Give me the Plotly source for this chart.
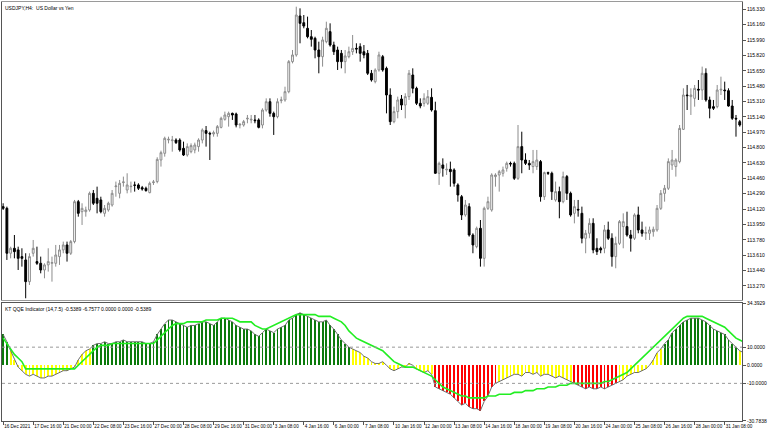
import plotly.graph_objects as go

# ---------------- data ----------------
date_labels = ["16 Dec 2021", "17 Dec 16:00", "21 Dec 00:00", "22 Dec 08:00", "23 Dec 16:00",
               "27 Dec 00:00", "28 Dec 08:00", "29 Dec 16:00", "31 Dec 00:00", "3 Jan 08:00",
               "4 Jan 16:00", "6 Jan 00:00", "7 Jan 08:00", "10 Jan 16:00", "12 Jan 00:00",
               "13 Jan 08:00", "14 Jan 16:00", "18 Jan 00:00", "19 Jan 08:00", "20 Jan 16:00",
               "24 Jan 00:00", "25 Jan 08:00", "26 Jan 16:00", "28 Jan 00:00", "31 Jan 08:00"]
bars_per_label = 8

open_ = [114.147,114.128,113.631,113.686,113.668,113.594,113.557,113.317,113.631,113.539,
         113.520,113.446,113.502,113.520,113.520,113.594,113.668,113.723,113.631,113.760,
         114.202,114.091,114.091,114.110,114.294,114.239,114.221,114.073,114.110,114.165,
         114.368,114.294,114.413,114.331,114.368,114.387,114.387,114.357,114.350,114.302,
         114.413,114.424,114.663,114.737,114.884,114.877,114.884,114.884,114.792,114.718,
         114.755,114.774,114.811,114.884,114.988,114.958,114.951,114.958,115.024,115.113,
         115.142,115.179,115.172,115.050,115.050,115.117,115.106,115.106,115.106,115.050,
         115.216,115.308,115.179,115.142,115.320,115.327,115.419,115.751,115.825,116.256,
         116.182,116.120,116.027,116.009,115.880,115.806,115.972,116.083,115.935,115.880,
         115.843,115.751,115.806,115.861,115.898,115.917,115.861,115.843,115.622,115.530,
         115.659,115.806,115.677,115.382,115.087,115.198,115.338,115.271,115.364,115.603,
         115.456,115.290,115.290,115.290,115.356,115.209,114.516,114.608,114.553,114.560,
         114.553,114.387,114.257,114.055,114.147,113.833,113.704,113.907,113.575,114.128,
         114.110,114.479,114.497,114.516,114.571,114.626,114.626,114.460,114.811,114.663,
         114.626,114.590,114.590,114.645,114.257,114.523,114.516,114.221,114.313,114.202,
         114.479,114.294,114.073,114.117,114.073,113.797,113.852,113.962,113.686,113.686,
         113.686,113.889,113.797,113.594,113.741,113.926,113.926,113.833,113.797,114.055,
         113.889,113.852,113.852,113.870,113.889,114.128,114.294,114.350,114.608,114.590,
         114.645,115.002,115.382,115.364,115.345,115.445,115.437,115.622,115.327,115.253,
         115.253,115.437,115.437,115.430,115.260,115.124,115.087,115.050]

high_ = [114.184,114.147,113.704,113.833,113.704,113.686,113.631,113.631,113.778,113.704,
         113.594,113.520,113.686,113.594,113.723,113.723,113.760,113.760,113.778,114.221,
         114.221,114.184,114.147,114.313,114.331,114.368,114.257,114.165,114.202,114.331,
         114.424,114.442,114.479,114.516,114.424,114.424,114.405,114.376,114.368,114.424,
         114.442,114.693,114.766,114.921,114.921,114.929,114.903,114.903,114.866,114.847,
         114.847,114.855,114.903,115.013,115.039,114.976,114.988,115.050,115.142,115.198,
         115.198,115.187,115.187,115.069,115.106,115.161,115.161,115.161,115.124,115.235,
         115.345,115.345,115.198,115.345,115.364,115.474,115.769,115.880,116.359,116.341,
         116.267,116.249,116.101,116.027,115.972,116.027,116.193,116.175,115.972,115.917,
         115.880,115.880,115.917,116.046,115.954,115.954,115.935,115.880,115.659,115.677,
         115.861,115.825,115.696,115.456,115.253,115.364,115.382,115.401,115.659,115.677,
         115.474,115.345,115.401,115.437,115.456,115.308,114.645,114.681,114.626,114.645,
         114.571,114.405,114.276,114.221,114.184,113.852,113.926,113.999,114.147,114.257,
         114.516,114.516,114.553,114.590,114.645,114.645,114.645,115.050,114.976,114.737,
         114.663,114.774,114.774,114.663,114.534,114.534,114.534,114.424,114.368,114.534,
         114.497,114.313,114.221,114.221,114.147,113.889,114.018,114.018,113.797,113.704,
         113.944,113.981,113.852,113.815,113.999,114.073,114.091,113.889,114.073,114.147,
         113.981,113.926,113.926,113.926,114.165,114.331,114.387,114.681,114.774,114.681,
         115.050,115.456,115.493,115.456,115.493,115.548,115.696,115.677,115.364,115.327,
         115.493,115.585,115.530,115.456,115.327,115.161,115.106,115.087]

low_ = [114.110,113.557,113.575,113.575,113.446,113.483,113.133,113.280,113.594,113.502,
        113.409,113.354,113.428,113.317,113.483,113.502,113.631,113.539,113.612,113.741,
        114.036,113.944,114.036,114.091,114.165,114.073,114.073,114.036,114.091,114.147,
        114.257,114.239,114.368,114.294,114.302,114.313,114.331,114.324,114.313,114.294,
        114.387,114.405,114.590,114.700,114.847,114.755,114.840,114.755,114.707,114.700,
        114.737,114.737,114.755,114.847,114.811,114.663,114.921,114.921,115.013,115.098,
        115.032,115.106,115.024,115.013,115.032,115.069,115.069,115.069,115.013,115.013,
        115.198,115.142,114.940,115.124,115.290,115.308,115.401,115.732,115.806,115.954,
        116.120,116.009,115.917,115.788,115.622,115.696,115.954,115.917,115.825,115.659,
        115.677,115.622,115.788,115.825,115.843,115.751,115.788,115.603,115.530,115.511,
        115.640,115.640,115.179,115.050,115.069,115.124,115.216,115.124,115.327,115.401,
        115.271,115.235,115.253,115.271,115.198,114.510,114.387,114.479,114.497,114.368,
        114.368,114.202,113.999,114.036,113.815,113.631,113.686,113.483,113.483,114.110,
        114.091,114.368,114.313,114.479,114.534,114.590,114.442,114.442,114.516,114.608,
        114.553,114.516,114.553,114.202,114.221,114.497,114.221,114.202,114.018,114.184,
        114.221,114.036,113.962,114.036,113.741,113.631,113.797,113.631,113.612,113.631,
        113.631,113.778,113.483,113.465,113.723,113.686,113.815,113.649,113.778,113.852,
        113.815,113.778,113.778,113.815,113.870,114.110,114.202,114.331,114.553,114.479,
        114.626,114.995,115.216,115.161,115.253,115.327,115.327,115.308,115.124,115.216,
        115.235,115.382,115.327,115.253,115.106,114.921,115.032,114.884]

close_ = [114.128,113.631,113.686,113.649,113.575,113.575,113.317,113.594,113.686,113.520,
          113.446,113.502,113.539,113.528,113.612,113.668,113.723,113.631,113.760,114.202,
          114.073,114.128,114.110,114.294,114.184,114.184,114.091,114.128,114.184,114.294,
          114.375,114.405,114.420,114.387,114.372,114.383,114.350,114.342,114.324,114.405,
          114.420,114.670,114.744,114.903,114.892,114.884,114.855,114.774,114.718,114.811,
          114.822,114.829,114.884,114.995,114.958,114.951,114.965,115.032,115.124,115.161,
          115.179,115.161,115.050,115.058,115.087,115.124,115.113,115.098,115.024,115.216,
          115.308,115.179,115.142,115.308,115.327,115.419,115.751,115.825,116.267,116.175,
          116.145,116.027,115.998,115.880,115.806,115.991,116.120,115.935,115.861,115.751,
          115.751,115.814,115.861,115.898,115.891,115.843,115.825,115.622,115.548,115.659,
          115.825,115.659,115.382,115.087,115.198,115.327,115.271,115.364,115.622,115.456,
          115.290,115.260,115.345,115.364,115.216,114.516,114.626,114.571,114.560,114.534,
          114.405,114.276,114.055,114.165,113.833,113.723,113.907,113.575,114.128,114.202,
          114.497,114.497,114.534,114.553,114.626,114.619,114.460,114.811,114.663,114.626,
          114.608,114.645,114.663,114.257,114.523,114.516,114.313,114.313,114.202,114.479,
          114.294,114.055,114.147,114.110,113.797,113.852,113.962,113.668,113.649,113.668,
          113.889,113.797,113.594,113.741,113.981,113.981,113.833,113.797,114.055,113.889,
          113.852,113.859,113.889,113.896,114.128,114.294,114.350,114.645,114.663,114.663,
          115.013,115.382,115.375,115.382,115.456,115.437,115.622,115.327,115.235,115.235,
          115.437,115.445,115.430,115.260,115.124,115.117,115.050,114.976]

# QQE histogram (smoothed RSI - 50) and QQE trailing line
qqe_hist = [17,13,8,3,
            -1,-3,-5,-6,-5,-6,-7,-7,-6,-6,-5,-4,-3,-3,-2,-1,
            3,6,8,9,
            11,12,12,13,12,12,13,13,14,13,13,13,
            13,13,12,12,13,
            17,20,23,25,25,
            24,23,22,21,22,22,23,24,24,23,22,
            24,26,26,25,24,22,
            21,20,20,19,17,16,
            18,20,19,18,20,21,22,
            25,26,28,29,28,27,26,25,24,
            24,25,22,20,17,14,
            12,10,9,8,7,5,4,2,1,1,2,0,-2,
            -3,-2,-1,-1,1,0,-2,-3,-4,-3,-5,
            -12,-13,-14,-15,-16,-18,-20,-22,-21,-23,-24,-24,-25,-20,-17,-12,-10,-9,
            -8,-7,-6,-5,-5,-6,-4,-4,-5,-4,-6,-5,-5,-6,-7,-6,-7,-8,-9,-10,
            -11,-12,-13,-12,-13,-13,-12,-13,-12,-11,-10,-9,
            -8,-6,-5,-4,-4,-3,-2,0,3,7,9,
            12,14,18,20,22,24,25,26,26,26,25,24,22,20,19,18,17,14,12,10,
            8,7]

qqe_line = [15,12,9,6,4,2,
            -2,-2,-2,-2,-2,-2,-2,-2,-2,-2,-2,-2,-2,-2,
            0,2,4,6,8,10,
            11,11,11,12,12,12,12,12,12,12,12,12,12,12,12,
            14,16,18,20,22,23,23,23,
            24,24,24,24,24,25,25,25,25,26,26,26,26,25,24,24,24,24,
            22,21,20,20,21,22,23,24,25,
            26,27,28,28,28,28,28,28,27,27,27,27,26,25,24,
            22,19,17,15,14,13,12,11,10,9,8,6,4,
            2,1,0,-1,-1,-1,-2,-3,-4,-5,-6,
            -8,-10,-12,-13,-14,-15,-16,-17,-17,-18,-18,-18,-18,-18,-17,-17,-17,-16,
            -16,-16,-16,-15,-15,-15,-14,-14,-14,-13,-13,-13,-12,-12,-12,-11,-11,-11,-10,-10,
            -10,-10,-10,-10,-10,-10,-10,-9,-9,-8,-7,-6,
            -5,-4,-2,0,2,4,6,8,10,12,14,
            16,18,20,22,24,26,27,27,27,27,27,26,25,24,23,22,21,19,17,15,
            14,13]

level_hi, level_lo = 10, -10

price_ticks = [116.330, 116.160, 115.990, 115.820, 115.650, 115.480, 115.310, 115.140, 114.970,
               114.800, 114.630, 114.460, 114.290, 114.120, 113.950, 113.780, 113.610, 113.440, 113.270]
ind_ticks = [34.3929, 10.0, 0.0, -10.0, -30.7838]

# ---------------- figure ----------------
n = len(close_)
x = list(range(n))

green_vals = [v if v >= level_hi else None for v in qqe_hist]
red_vals = [v if v <= level_lo else None for v in qqe_hist]
yel_vals = [v if level_lo < v < level_hi else None for v in qqe_hist]

fig = go.Figure()
fig.add_trace(go.Candlestick(
    x=x, open=open_, high=high_, low=low_, close=close_,
    increasing=dict(line=dict(color="#8c8c8c", width=1), fillcolor="#ffffff"),
    decreasing=dict(line=dict(color="#000000", width=1), fillcolor="#000000"),
    whiskerwidth=0, showlegend=False, hoverinfo="skip", xaxis="x", yaxis="y"))

for vals, col in [(green_vals, "#0b7a0b"), (yel_vals, "#ffff00"), (red_vals, "#ff0000")]:
    fig.add_trace(go.Bar(x=x, y=vals, marker=dict(color=col, line=dict(width=0)),
                         width=0.5, showlegend=False, hoverinfo="skip", xaxis="x2", yaxis="y2"))

fig.add_trace(go.Scatter(x=x, y=qqe_hist, mode="lines", line=dict(color="#6e6e6e", width=1),
                         showlegend=False, hoverinfo="skip", xaxis="x2", yaxis="y2"))
fig.add_trace(go.Scatter(x=x, y=qqe_line, mode="lines", line=dict(color="#22ee22", width=1.6),
                         showlegend=False, hoverinfo="skip", xaxis="x2", yaxis="y2"))

xr = [-0.3, 196.6]
font_small = dict(family="Liberation Sans, Arial, sans-serif", size=5, color="#000000")

fig.update_layout(
    width=768, height=433,
    margin=dict(l=2, r=26, t=2, b=12, autoexpand=False),
    paper_bgcolor="#ffffff", plot_bgcolor="#ffffff",
    bargap=0, barmode="overlay", hovermode=False,
    xaxis=dict(domain=[0, 1], anchor="y", range=xr, showticklabels=False, showgrid=False,
               zeroline=False, showline=True, linecolor="#9a9a9a", linewidth=1, mirror=True,
               rangeslider=dict(visible=False), ticks="", automargin=False),
    yaxis=dict(domain=[0.2888, 1], anchor="x", side="right", range=[113.114, 116.411],
               tickvals=price_ticks, ticktext=[f"{v:.3f}" for v in price_ticks],
               ticks="outside", ticklen=3, tickcolor="#555555", tickfont=font_small,
               showgrid=False, zeroline=False, showline=True, linecolor="#555555",
               linewidth=1, mirror=True, automargin=False),
    xaxis2=dict(domain=[0, 1], anchor="y2", range=xr, matches="x",
                tickvals=[i * bars_per_label for i in range(len(date_labels))],
                ticktext=date_labels, ticks="outside", ticklen=3, tickcolor="#555555",
                tickangle=0, ticklabelposition="outside right",
                tickfont=dict(family=font_small["family"], size=4.6, color="#000000"),
                showgrid=False, zeroline=False, showline=True, linecolor="#555555",
                linewidth=1, mirror=True, automargin=False),
    yaxis2=dict(domain=[0, 0.2816], anchor="x2", side="right", range=[-30.79, 34.40],
                tickvals=ind_ticks, ticktext=[f"{v:.4f}" for v in ind_ticks],
                ticks="outside", ticklen=3, tickcolor="#555555", tickfont=font_small,
                showgrid=False, zeroline=False, showline=True, linecolor="#555555",
                linewidth=1, mirror=True, automargin=False),
    shapes=[
        dict(type="line", xref="x2 domain", yref="y2", x0=0, x1=1, y0=level_hi, y1=level_hi,
             line=dict(color="#9a9a9a", width=1, dash="dot")),
        dict(type="line", xref="x2 domain", yref="y2", x0=0, x1=1, y0=level_lo, y1=level_lo,
             line=dict(color="#9a9a9a", width=1, dash="dot")),
    ],
    annotations=[
        dict(text="USDJPY,H4:  US Dollar vs Yen", xref="paper", yref="paper", x=0.002, y=1,
             xanchor="left", yanchor="top", yshift=-1, showarrow=False, font=font_small),
        dict(text="KT QQE Indicator (14,7.5) -0.5389 -6.7577 0.0000 0.0000 -0.5389",
             xref="paper", yref="paper", x=0.002, y=0.2816, xanchor="left", yanchor="top",
             yshift=-1, showarrow=False, font=font_small),
    ],
)

fig.write_html("out.html", config={"displayModeBar": False, "staticPlot": True},
               post_script="document.body.style.margin='0px';document.body.style.overflow='hidden';")
